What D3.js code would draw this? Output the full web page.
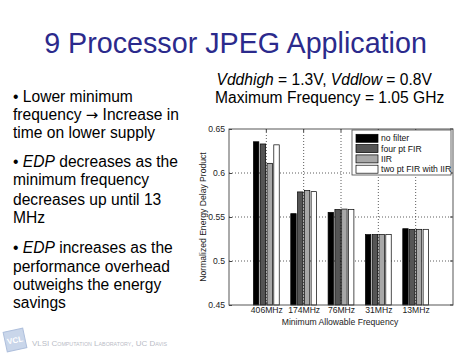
<!DOCTYPE html>
<html><head><meta charset="utf-8">
<script src="https://cdnjs.cloudflare.com/ajax/libs/d3/7.8.5/d3.min.js"></script>
<style>html,body{margin:0;padding:0;background:#fff;}svg{display:block;font-family:"Liberation Sans",Arial,sans-serif;}</style>
</head><body>
<script>
const categories = ["406MHz","174MHz","76MHz","31MHz","13MHz"];
const seriesNames = ["no filter","four pt FIR","IIR","two pt FIR with IIR"];
const noFilter   = [0.6355,0.5538,0.5553,0.5300,0.5367];
const fourPtFIR  = [0.6330,0.5785,0.5585,0.5300,0.5360];
const iir        = [0.6110,0.5800,0.5590,0.5300,0.5360];
const twoPtFIRIIR= [0.6320,0.5788,0.5587,0.5300,0.5360];
const yTicks = [0.45,0.5,0.55,0.6,0.65];
const seriesColors = ["#000000","#555555","#a8a8a8","#ffffff"];
const series = [noFilter,fourPtFIR,iir,twoPtFIRIIR];

const W=474,H=355;
const svg=d3.select("body").append("svg").attr("width",W).attr("height",H);

// Title
svg.append("text").attr("x",235.5).attr("y",53).attr("text-anchor","middle")
  .attr("font-size",28.7).attr("fill","#2b2a8c").text("9 Processor JPEG Application");

// Bullets
const fs=15.6, lx=13;
const lines=[
 {y:101.7,parts:[["• Lower minimum",0]]},
 {y:120,parts:[["frequency ",0],["→",2],[" Increase in",0]]},
 {y:138.3,parts:[["time on lower supply",0]]},
 {y:166.7,parts:[["• ",0],["EDP",1],[" decreases as the",0]]},
 {y:185,parts:[["minimum frequency",0]]},
 {y:205,parts:[["decreases up until 13",0]]},
 {y:223.3,parts:[["MHz",0]]},
 {y:253.3,parts:[["• ",0],["EDP",1],[" increases as the",0]]},
 {y:271.7,parts:[["performance overhead",0]]},
 {y:290,parts:[["outweighs the energy",0]]},
 {y:307.5,parts:[["savings",0]]}
];
lines.forEach(l=>{
  const t=svg.append("text").attr("x",lx).attr("y",l.y).attr("font-size",fs).attr("fill","#000");
  l.parts.forEach(p=>{
    const s=t.append("tspan").attr("font-style",p[1]===1?"italic":"normal").text(p[0]);
    if(p[1]===2) s.attr("font-family","DejaVu Sans").attr("font-size",fs*0.95);
  });
});

// Right header text
const h1=svg.append("text").attr("x",216.5).attr("y",85).attr("font-size",fs).attr("fill","#000");
h1.append("tspan").attr("font-style","italic").text("Vddhigh");
h1.append("tspan").text(" = 1.3V, ");
h1.append("tspan").attr("font-style","italic").text("Vddlow");
h1.append("tspan").text(" = 0.8V");
svg.append("text").attr("x",215).attr("y",103.3).attr("font-size",fs).attr("fill","#000")
  .text("Maximum Frequency = 1.05 GHz");

// Chart
const L=229,R=453,T=129,B=305;
const x=d3.scaleLinear().domain([0,categories.length+1]).range([L,R]);
const y=d3.scaleLinear().domain([0.45,0.65]).range([B,T]);
const nb=series.length;
const groupW=Math.min(0.8,nb/(nb+1.5));
const slot=groupW/nb, barW=slot*0.8;

const g=svg.append("g");
g.selectAll(".hg").data(yTicks.slice(1,-1)).enter().append("line")
 .attr("x1",L).attr("x2",R).attr("y1",d=>y(d)).attr("y2",d=>y(d))
 .attr("stroke","#333").attr("stroke-width",0.8).attr("stroke-dasharray","1,2");
g.selectAll(".vg").data(categories).enter().append("line")
 .attr("x1",(d,i)=>x(i+1)).attr("x2",(d,i)=>x(i+1)).attr("y1",T).attr("y2",B)
 .attr("stroke","#333").attr("stroke-width",0.8).attr("stroke-dasharray","1,2");

series.forEach((s,k)=>{
  g.selectAll(".b"+k).data(s).enter().append("rect")
   .attr("x",(d,i)=>x(i+1-groupW/2+slot*k+(slot-barW)/2))
   .attr("width",x(barW)-x(0))
   .attr("y",d=>y(d)).attr("height",d=>B-y(d))
   .attr("fill",seriesColors[k]).attr("stroke","#000").attr("stroke-width",0.7);
});

g.append("rect").attr("x",L).attr("y",T).attr("width",R-L).attr("height",B-T)
 .attr("fill","none").attr("stroke","#444").attr("stroke-width",0.9);

const yAxis=d3.axisLeft(y).tickValues(yTicks).tickFormat(d3.format(".2~f")).tickSize(-3).tickPadding(4);
const ya=svg.append("g").attr("transform",`translate(${L},0)`).call(yAxis);
ya.select(".domain").remove();
ya.selectAll("line").attr("stroke","#444");
ya.selectAll("text").attr("font-size",8.6).attr("fill","#222").attr("font-family","Liberation Sans, Arial, sans-serif");

const xAxis=d3.axisBottom(x).tickValues(d3.range(1,categories.length+1)).tickFormat(d=>categories[d-1]).tickSize(-3).tickPadding(1.5);
const xa=svg.append("g").attr("transform",`translate(0,${B})`).call(xAxis);
xa.select(".domain").remove();
xa.selectAll("line").attr("stroke","#444");
xa.selectAll("text").attr("font-size",8.6).attr("fill","#222").attr("font-family","Liberation Sans, Arial, sans-serif");
svg.append("g").selectAll("line").data(d3.range(1,categories.length+1)).enter().append("line")
 .attr("x1",d=>x(d)).attr("x2",d=>x(d)).attr("y1",T).attr("y2",T+3).attr("stroke","#444");
svg.append("g").selectAll("line").data(yTicks).enter().append("line")
 .attr("x1",R).attr("x2",R-3).attr("y1",d=>y(d)).attr("y2",d=>y(d)).attr("stroke","#444");

svg.append("text").attr("x",340).attr("y",325).attr("text-anchor","middle").attr("font-size",8.6).attr("fill","#222")
 .text("Minimum Allowable Frequency");
svg.append("text").attr("transform","translate(206,217) rotate(-90)").attr("text-anchor","middle").attr("font-size",8.6).attr("fill","#222")
 .text("Normalized Energy Delay Product");

const lg=svg.append("g");
lg.append("rect").attr("x",352).attr("y",130).attr("width",99).attr("height",45).attr("fill","#fff").attr("stroke","#444").attr("stroke-width",0.8);
seriesNames.forEach((n,k)=>{
  const cy=138.3+k*10.3;
  lg.append("rect").attr("x",356).attr("y",cy-4).attr("width",22).attr("height",8)
    .attr("fill",seriesColors[k]).attr("stroke","#000").attr("stroke-width",0.7);
  lg.append("text").attr("x",381).attr("y",cy+3).attr("font-size",8.6).attr("fill","#111").text(n);
});

const lo=svg.append("g").attr("transform","translate(15,340) rotate(-12)");
lo.append("rect").attr("x",-10).attr("y",-10).attr("width",20).attr("height",20).attr("fill","#c9d6ea").attr("stroke","#aebfdc");
lo.append("text").attr("x",0).attr("y",3).attr("text-anchor","middle").attr("font-size",8).attr("font-weight","bold").attr("fill","#fff").text("VCL");
svg.append("text").attr("x",32).attr("y",345.5).attr("font-size",7.5).attr("font-variant","small-caps")
 .attr("fill","#b9bcc6").attr("textLength",135).attr("lengthAdjust","spacingAndGlyphs").text("VLSI Computation Laboratory, UC Davis");
</script>
</body></html>
